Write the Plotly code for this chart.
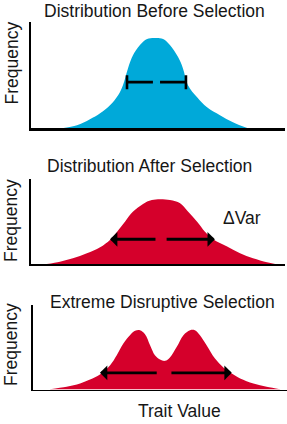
import plotly.graph_objects as go

W, H = 287, 424

# ---- data (arbitrary units: trait 0-100, frequency 0-100) ----
trait_before = [12.2, 18.1, 23.2, 27.2, 31.1, 34.3, 36.2, 38.2, 40.2, 42.9, 45.7, 48.8,
                52.0, 54.7, 57.9, 59.8, 61.8, 65.4, 69.3, 74.4, 79.5, 85.4]
freq_before = [0.0, 2.8, 8.5, 14.2, 21.7, 31.1, 40.6, 56.6, 68.9, 78.3, 84.0, 84.9,
               84.0, 78.3, 67.0, 56.6, 40.6, 29.2, 19.8, 12.3, 5.7, 0.0]

trait_after = [6.2, 11.4, 16.5, 22.0, 27.2, 31.1, 33.9, 37.0, 40.2, 44.1, 47.6, 54.7,
               58.7, 61.8, 65.4, 68.5, 71.7, 77.2, 82.3, 87.4, 92.9, 96.1]
freq_after = [0.4, 3.1, 7.1, 12.9, 20.0, 28.6, 38.4, 50.2, 62.0, 71.0, 75.7, 75.7,
              71.8, 62.0, 50.2, 38.4, 29.4, 20.8, 12.9, 7.1, 2.4, 0.4]

trait_disrupt = [6.9, 13.4, 18.7, 22.6, 26.5, 30.5, 33.1, 35.7, 38.3, 40.3, 42.2, 44.2,
                 46.2, 48.1, 50.1, 52.1, 54.0, 56.7, 59.3, 61.9, 63.8, 65.8, 68.4, 71.7,
                 75.0, 78.3, 81.6, 86.8, 92.0, 97.3]
freq_disrupt = [0.4, 3.2, 7.1, 11.8, 17.8, 28.8, 40.6, 54.4, 64.3, 69.4, 70.2, 65.5,
                52.5, 40.6, 35.5, 33.9, 37.9, 50.5, 64.3, 70.2, 70.2, 64.3, 52.5, 36.7,
                26.0, 18.9, 13.0, 7.1, 3.2, 0.4]

# variance indicators: [left end, gap start, gap end, right end], level, cap half-height
before_bar = [37.8, 48.0, 50.8, 61.0]
before_level = 43.4
before_cap = 6.6
after_arrow = [31.1, 49.6, 52.8, 72.4]
after_level = 29.4
disrupt_arrow = [26.5, 49.4, 54.0, 78.3]
disrupt_level = 19.7

titles = ["Distribution Before Selection", "Distribution After Selection",
          "Extreme Disruptive Selection"]
y_label = "Frequency"
x_label = "Trait Value"
delta_label = "ΔVar"

BLUE = "#00A9D9"
RED = "#D5002B"
INK = "#161616"
FONT = "Liberation Sans, Arial, sans-serif"
FS = 17.5


def px_x(p):
    return p / W


def px_y(p):
    return 1 - p / H


fig = go.Figure()

fig.add_trace(go.Scatter(x=trait_before, y=freq_before, mode="lines", fill="tozeroy",
                         fillcolor=BLUE, line=dict(width=0, color=BLUE, shape="spline"),
                         xaxis="x", yaxis="y", hoverinfo="skip"))
fig.add_trace(go.Scatter(x=trait_after, y=freq_after, mode="lines", fill="tozeroy",
                         fillcolor=RED, line=dict(width=0, color=RED, shape="spline"),
                         xaxis="x2", yaxis="y2", hoverinfo="skip"))
fig.add_trace(go.Scatter(x=trait_disrupt, y=freq_disrupt, mode="lines", fill="tozeroy",
                         fillcolor=RED, line=dict(width=0, color=RED, shape="spline"),
                         xaxis="x3", yaxis="y3", hoverinfo="skip"))

# error bar (before)
bx = [before_bar[0], before_bar[1], None, before_bar[2], before_bar[3], None,
      before_bar[0], before_bar[0], None, before_bar[3], before_bar[3]]
by = [before_level, before_level, None, before_level, before_level, None,
      before_level - before_cap, before_level + before_cap, None,
      before_level - before_cap, before_level + before_cap]
fig.add_trace(go.Scatter(x=bx, y=by, mode="lines", line=dict(color="black", width=2.6),
                         xaxis="x", yaxis="y", hoverinfo="skip"))

annotations = []


def arrow_pair(vals, level, ax_id):
    out = []
    for tip, start in ((vals[0], vals[1]), (vals[3], vals[2])):
        out.append(dict(x=tip, y=level, ax=start, ay=level, xref="x" + ax_id, yref="y" + ax_id,
                        axref="x" + ax_id, ayref="y" + ax_id, text="", showarrow=True,
                        arrowhead=1, arrowsize=0.85, arrowwidth=2.9, arrowcolor="black"))
    return out


annotations += arrow_pair(after_arrow, after_level, "2")
annotations += arrow_pair(disrupt_arrow, disrupt_level, "3")

# text
for txt, cx, cy in zip(titles, [154.5, 149, 162], [11, 166, 302]):
    annotations.append(dict(text=txt, x=px_x(cx), y=px_y(cy), xref="paper", yref="paper",
                            showarrow=False, xanchor="center", yanchor="middle",
                            font=dict(family=FONT, size=FS, color=INK)))
for cy in [63.5, 221, 345]:
    annotations.append(dict(text=y_label, x=px_x(11), y=px_y(cy), xref="paper", yref="paper",
                            showarrow=False, xanchor="center", yanchor="middle", textangle=-90,
                            font=dict(family=FONT, size=FS, color=INK)))
annotations.append(dict(text=x_label, x=px_x(179.5), y=px_y(411), xref="paper", yref="paper",
                        showarrow=False, xanchor="center", yanchor="middle",
                        font=dict(family=FONT, size=FS, color=INK)))
annotations.append(dict(text=delta_label, x=px_x(242), y=px_y(218), xref="paper", yref="paper",
                        showarrow=False, xanchor="center", yanchor="middle",
                        font=dict(family=FONT, size=FS, color=INK)))


def xax(dom, anchor, lw):
    return dict(domain=dom, range=[0, 100], showgrid=False, zeroline=False, showticklabels=False,
                ticks="", showline=True, linecolor="black", linewidth=lw, anchor=anchor,
                fixedrange=True)


def yax(dom, anchor):
    return dict(domain=dom, range=[0, 100], showgrid=False, zeroline=False, showticklabels=False,
                ticks="", showline=True, linecolor="black", linewidth=2, anchor=anchor,
                fixedrange=True)


fig.update_layout(
    width=W, height=H, autosize=False,
    margin=dict(l=0, r=0, t=0, b=0, pad=0),
    paper_bgcolor="white", plot_bgcolor="white",
    showlegend=False,
    xaxis=xax([px_x(31), px_x(285)], "y", 2.5),
    yaxis=yax([px_y(128.3), px_y(22)], "x"),
    xaxis2=xax([px_x(31), px_x(285)], "y2", 2),
    yaxis2=yax([px_y(264.3), px_y(179.3)], "x2"),
    xaxis3=xax([px_x(32.5), px_x(287)], "y3", 1.5),
    yaxis3=yax([px_y(389.5), px_y(305)], "x3"),
    annotations=annotations,
)

fig.write_html("out.html", config={"displayModeBar": False, "staticPlot": True})
